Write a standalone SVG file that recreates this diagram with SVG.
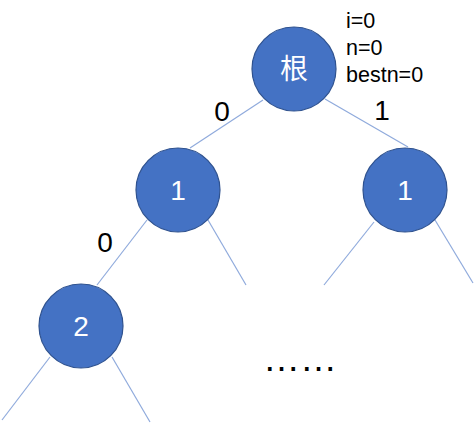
<svg xmlns="http://www.w3.org/2000/svg" width="474" height="434" viewBox="0 0 474 434">
<style>
.node circle{fill:#4472C4;stroke:#2F528F;stroke-width:1.2}
.node text{fill:#fff;font-family:"Liberation Sans","Noto Sans CJK SC",sans-serif;font-size:28px;text-anchor:middle}
.edges line{stroke:#8FAADC;stroke-width:1.2}
.lbl{fill:#000;font-family:"Liberation Sans",sans-serif;font-size:28px;text-anchor:middle}
.info{fill:#000;font-family:"Liberation Sans",sans-serif;font-size:21.5px}
</style>
<rect width="474" height="434" fill="#fff"/>
<g class="edges">
<line x1="263" y1="100" x2="190" y2="148"/>
<line x1="325" y1="99" x2="408" y2="147"/>
<line x1="147" y1="220" x2="97" y2="285"/>
<line x1="208" y1="220" x2="246" y2="285"/>
<line x1="50" y1="357" x2="2" y2="420"/>
<line x1="112" y1="357" x2="150" y2="422"/>
<line x1="374" y1="222" x2="324" y2="285"/>
<line x1="435" y1="220" x2="473" y2="283"/>
</g>
<g id="root" class="node"><circle cx="294" cy="69" r="42"/><text x="294" y="79">根</text></g>
<g id="n1left" class="node"><circle cx="178" cy="190" r="42"/><text x="178" y="200">1</text></g>
<g id="n1right" class="node"><circle cx="405" cy="190" r="42"/><text x="405" y="200">1</text></g>
<g id="n2" class="node"><circle cx="81" cy="326" r="42"/><text x="81" y="336">2</text></g>
<g id="labels">
<text class="lbl" x="222" y="121">0</text>
<text class="lbl" x="382" y="120">1</text>
<text class="lbl" x="105" y="252">0</text>
<text class="info" x="346" y="28">i=0</text>
<text class="info" x="346" y="55">n=0</text>
<text class="info" x="346" y="82">bestn=0</text>
<text x="263" y="371" font-family="Liberation Sans,sans-serif" font-size="37" fill="#000">……</text>
</g>
</svg>
